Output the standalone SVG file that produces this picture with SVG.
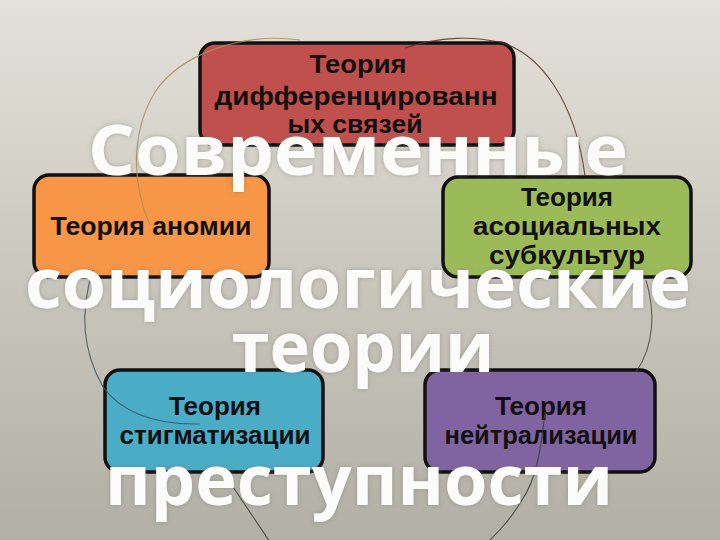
<svg xmlns="http://www.w3.org/2000/svg" width="720" height="540" viewBox="0 0 720 540">
  <defs>
    <linearGradient id="bg" x1="0" y1="0" x2="0" y2="1">
      <stop offset="0" stop-color="#e3e1d9"/>
      <stop offset="0.5" stop-color="#cac8be"/>
      <stop offset="1" stop-color="#b2b0a5"/>
    </linearGradient>
    <filter id="glow" x="-10%" y="-30%" width="120%" height="160%">
      <feGaussianBlur in="SourceAlpha" stdDeviation="2.5" result="b"/>
      <feFlood flood-color="#6e6c64" flood-opacity="0.45"/>
      <feComposite in2="b" operator="in" result="s"/>
      <feMerge>
        <feMergeNode in="s"/>
        <feMergeNode in="SourceGraphic"/>
      </feMerge>
    </filter>
    <style>
      .box { stroke: #111; stroke-width: 3.5; }
      .lbl { font-family: "Liberation Sans", Arial, sans-serif; font-weight: bold; font-size: 26px; fill: #141010; text-anchor: middle; }
      .arc { fill: none; stroke-width: 1.1; opacity: 0.85; }
      .big { font-family: "Open Sans", "DejaVu Sans", sans-serif; font-weight: bold; font-size: 70px; fill: #fbfbfa; text-anchor: middle; }
    </style>
  </defs>

  <rect x="0" y="0" width="720" height="540" fill="url(#bg)"/>

  <g id="node-top">
    <rect class="box" x="200" y="43" width="314" height="102" rx="15" fill="#c0504d"/>
    <text class="lbl" x="358" y="73" textLength="97" lengthAdjust="spacingAndGlyphs">Теория</text>
    <text class="lbl" x="356" y="105" textLength="283" lengthAdjust="spacingAndGlyphs">дифференцированн</text>
    <text class="lbl" x="355" y="133" textLength="135" lengthAdjust="spacingAndGlyphs">ых связей</text>
  </g>

  <g id="node-left">
    <rect class="box" x="34" y="175" width="235" height="102" rx="15" fill="#f79646"/>
    <text class="lbl" x="151" y="235" textLength="201" lengthAdjust="spacingAndGlyphs">Теория аномии</text>
  </g>

  <g id="node-right">
    <rect class="box" x="443" y="177" width="248" height="100" rx="15" fill="#9bbb59"/>
    <text class="lbl" x="567" y="206">Теория</text>
    <text class="lbl" x="567" y="235" textLength="188" lengthAdjust="spacingAndGlyphs">асоциальных</text>
    <text class="lbl" x="567" y="264" textLength="156" lengthAdjust="spacingAndGlyphs">субкультур</text>
  </g>

  <g id="node-bottom-left">
    <rect class="box" x="105" y="370" width="218" height="102" rx="15" fill="#4bacc6"/>
    <text class="lbl" x="215" y="415">Теория</text>
    <text class="lbl" x="215" y="444">стигматизации</text>
  </g>

  <g id="node-bottom-right">
    <rect class="box" x="425" y="370" width="230" height="102" rx="15" fill="#8064a2"/>
    <text class="lbl" x="541" y="415">Теория</text>
    <text class="lbl" x="541" y="444" textLength="193" lengthAdjust="spacingAndGlyphs">нейтрализации</text>
  </g>

  <g id="connectors">
    <path class="arc" stroke="#a88f5c" d="M300,40 C240,32 180,55 155,92 C135,125 128,175 150,225"/>
    <path class="arc" stroke="#5a2e22" d="M405,48 C440,36 475,36 503,43 C540,55 575,100 585,176"/>
    <path class="arc" stroke="#34545c" d="M93,270 C80,310 82,350 103,387 C120,410 150,425 200,424"/>
    <path class="arc" stroke="#3a3a3a" d="M222,470 C236,492 252,515 270,542"/>
    <path class="arc" stroke="#4e4e3c" d="M646,280 C655,310 655,345 636,372"/>
    <path class="arc" stroke="#3a3a3a" d="M545,412 C541,450 536,480 522,500 C510,520 500,530 488,542"/>
  </g>

  <g id="title" filter="url(#glow)">
    <text class="big" x="358" y="175" textLength="540" lengthAdjust="spacingAndGlyphs">Современные</text>
    <text class="big" x="358" y="308" textLength="666" lengthAdjust="spacingAndGlyphs">социологические</text>
    <text class="big" x="363" y="372" textLength="263" lengthAdjust="spacingAndGlyphs">теории</text>
    <text class="big" x="359" y="505" textLength="508" lengthAdjust="spacingAndGlyphs">преступности</text>
  </g>
</svg>
